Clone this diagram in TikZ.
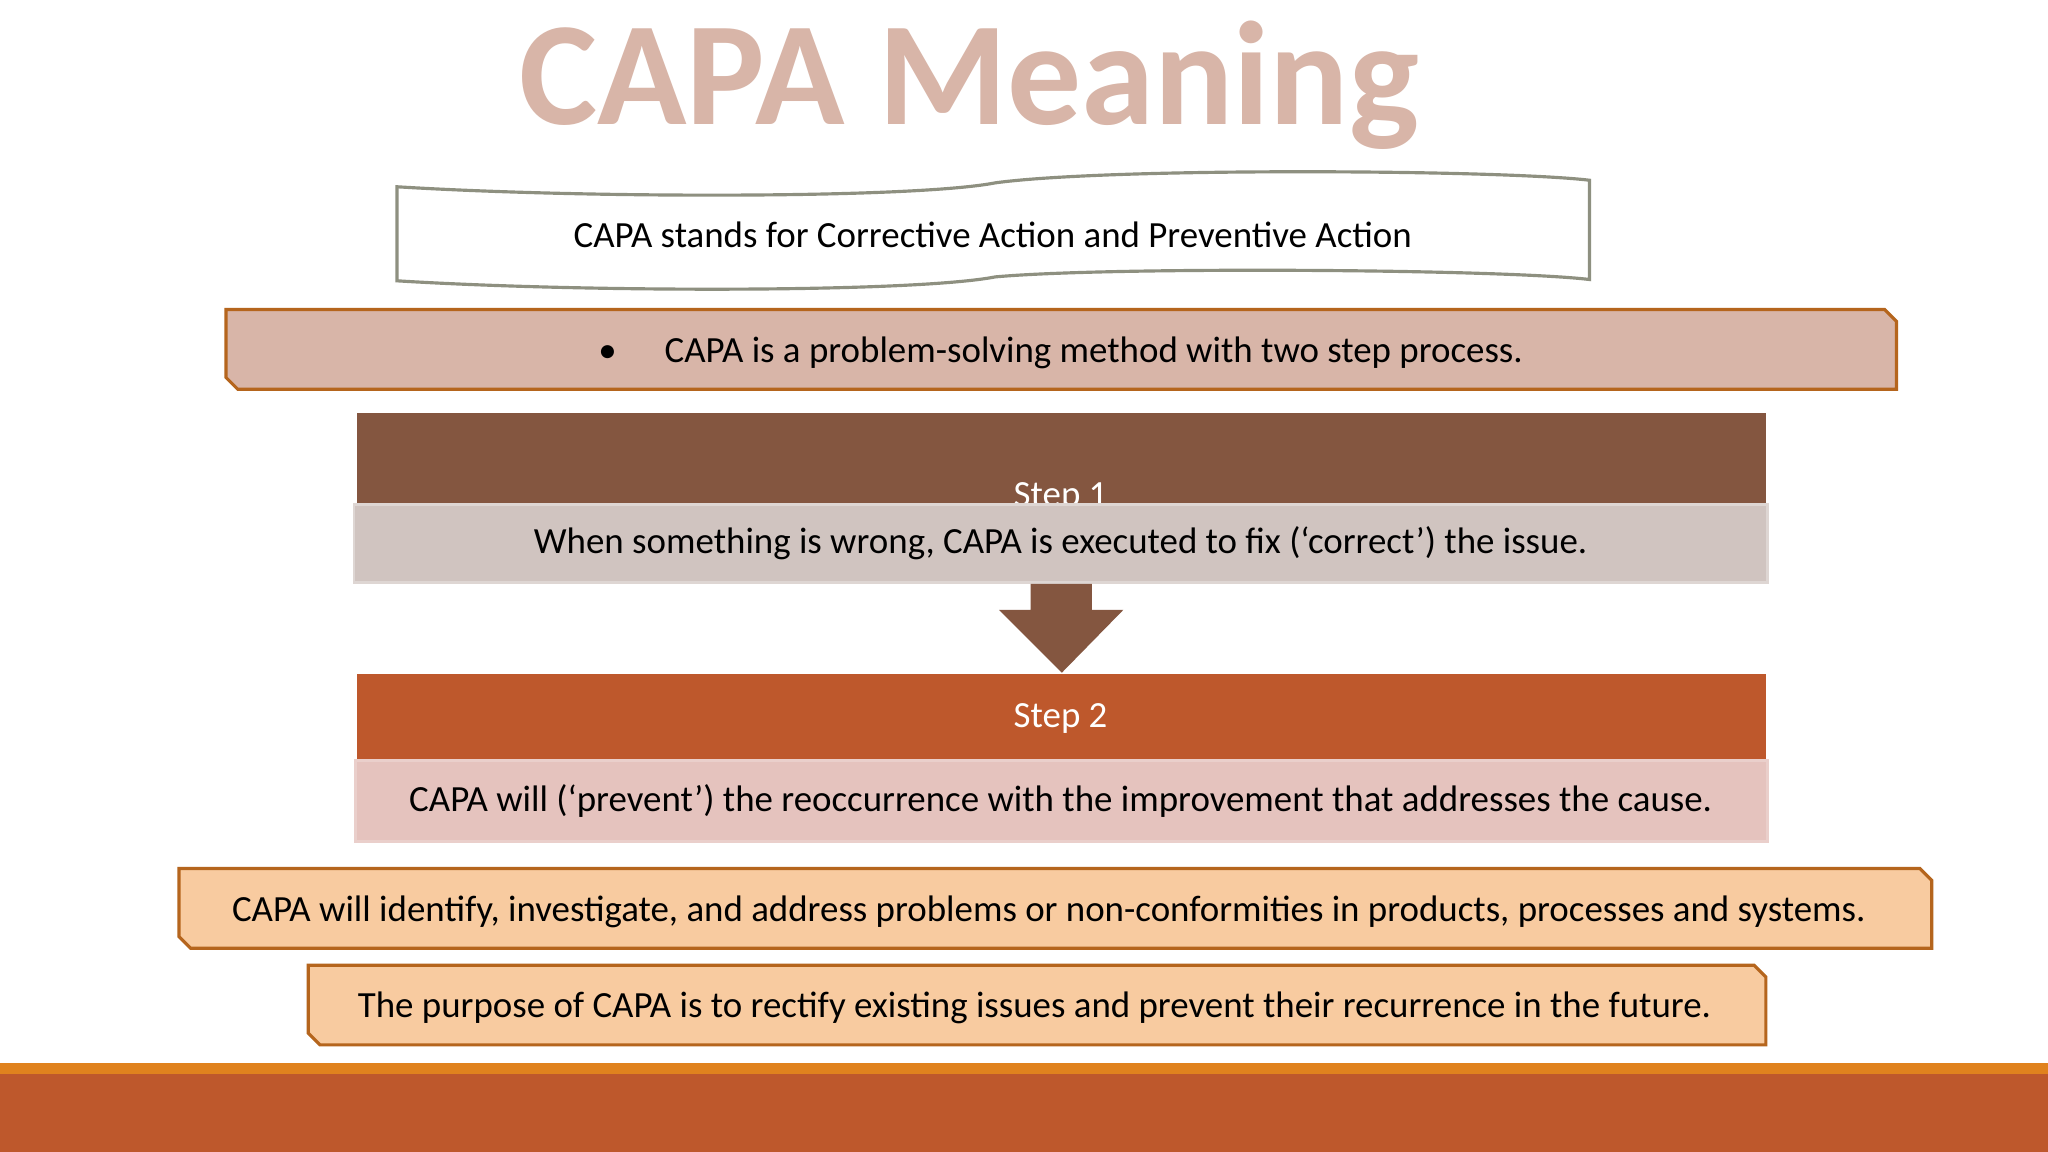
\documentclass[tikz,border=0pt]{standalone}
\usepackage{fontspec}
\setmainfont{Carlito}
\begin{document}
\begin{tikzpicture}[x=0.013061cm,y=-0.013061cm,
  txt/.style={font=\fontsize{10.5pt}{12pt}\selectfont,text=black},
  snip/.style={line width=0.9pt,draw=snipline}]
\definecolor{titlec}{HTML}{D8B5A8}
\definecolor{snipline}{HTML}{B5651D}
\definecolor{brownc}{HTML}{845640}
\definecolor{orangec}{HTML}{BE582C}
\definecolor{grayc}{HTML}{D0C4C0}
\definecolor{pinkc}{HTML}{E5C3BE}
\definecolor{peach}{HTML}{F8CBA0}
\definecolor{scrollc}{HTML}{8E9080}
\definecolor{barc}{HTML}{E0821E}
\useasboundingbox (0,0) rectangle (1568,882);
\fill[white] (0,0) rectangle (1568,882);
\node (title) at (742,65) {\fontsize{42pt}{48pt}\selectfont\bfseries\color{titlec}CAPA Meaning};
% scroll box
\draw[scrollc,line width=0.9pt,fill=white] (304,143) .. controls (450,152) and (700,152) .. (762,140)
  .. controls (850,128) and (1150,130) .. (1217,138) -- (1217,214)
  .. controls (1150,206) and (850,204) .. (762,212)
  .. controls (700,224) and (450,224) .. (304,215) -- cycle;
\node[txt] (s) at (760,180) {CAPA stands for Corrective Action and Preventive Action};
% bullet box
\draw[snip,fill=titlec] (173,237) -- (1443,237) -- (1452,246) -- (1452,298) -- (182,298) -- (173,289) -- cycle;
\node[txt] (b) at (812,270) {\textbullet\hspace{1.3em}CAPA is a problem-solving method with two step process.};
% step 1
\fill[brownc] (273,316) rectangle (1352,386);
\node[txt,text=white] (st1) at (812,381) {Step 1};
\draw[draw=grayc!70!white,fill=grayc,line width=0.8pt] (271,386) rectangle (1353,446);
\node[txt] (g) at (812,416) {When something is wrong, CAPA is executed to fix (‘correct’) the issue.};
% arrow
\fill[brownc] (789,447) -- (836,447) -- (836,467) -- (860,467) -- (813,515) -- (765,467) -- (789,467) -- cycle;
% step 2
\fill[orangec] (273,516) rectangle (1352,582);
\node[txt,text=white] (st2) at (812,550) {Step 2};
\draw[draw=pinkc!80!white,fill=pinkc,line width=0.8pt] (272,582) rectangle (1353,644);
\node[txt] (p) at (812,613) {CAPA will (‘prevent’) the reoccurrence with the improvement that addresses the cause.};
% peach boxes
\draw[snip,fill=peach] (137,665) -- (1470,665) -- (1479,674) -- (1479,726) -- (146,726) -- (137,717) -- cycle;
\node[txt] (c1) at (803,698) {CAPA will identify, investigate, and address problems or non-conformities in products, processes and systems.};
\draw[snip,fill=peach] (236,739) -- (1343,739) -- (1352,748) -- (1352,800) -- (245,800) -- (236,791) -- cycle;
\node[txt] (c2) at (792,772) {The purpose of CAPA is to rectify existing issues and prevent their recurrence in the future.};
% bottom bars
\fill[barc] (0,814) rectangle (1568,822);
\fill[orangec] (0,822) rectangle (1568,882);
\end{tikzpicture}
\end{document}
